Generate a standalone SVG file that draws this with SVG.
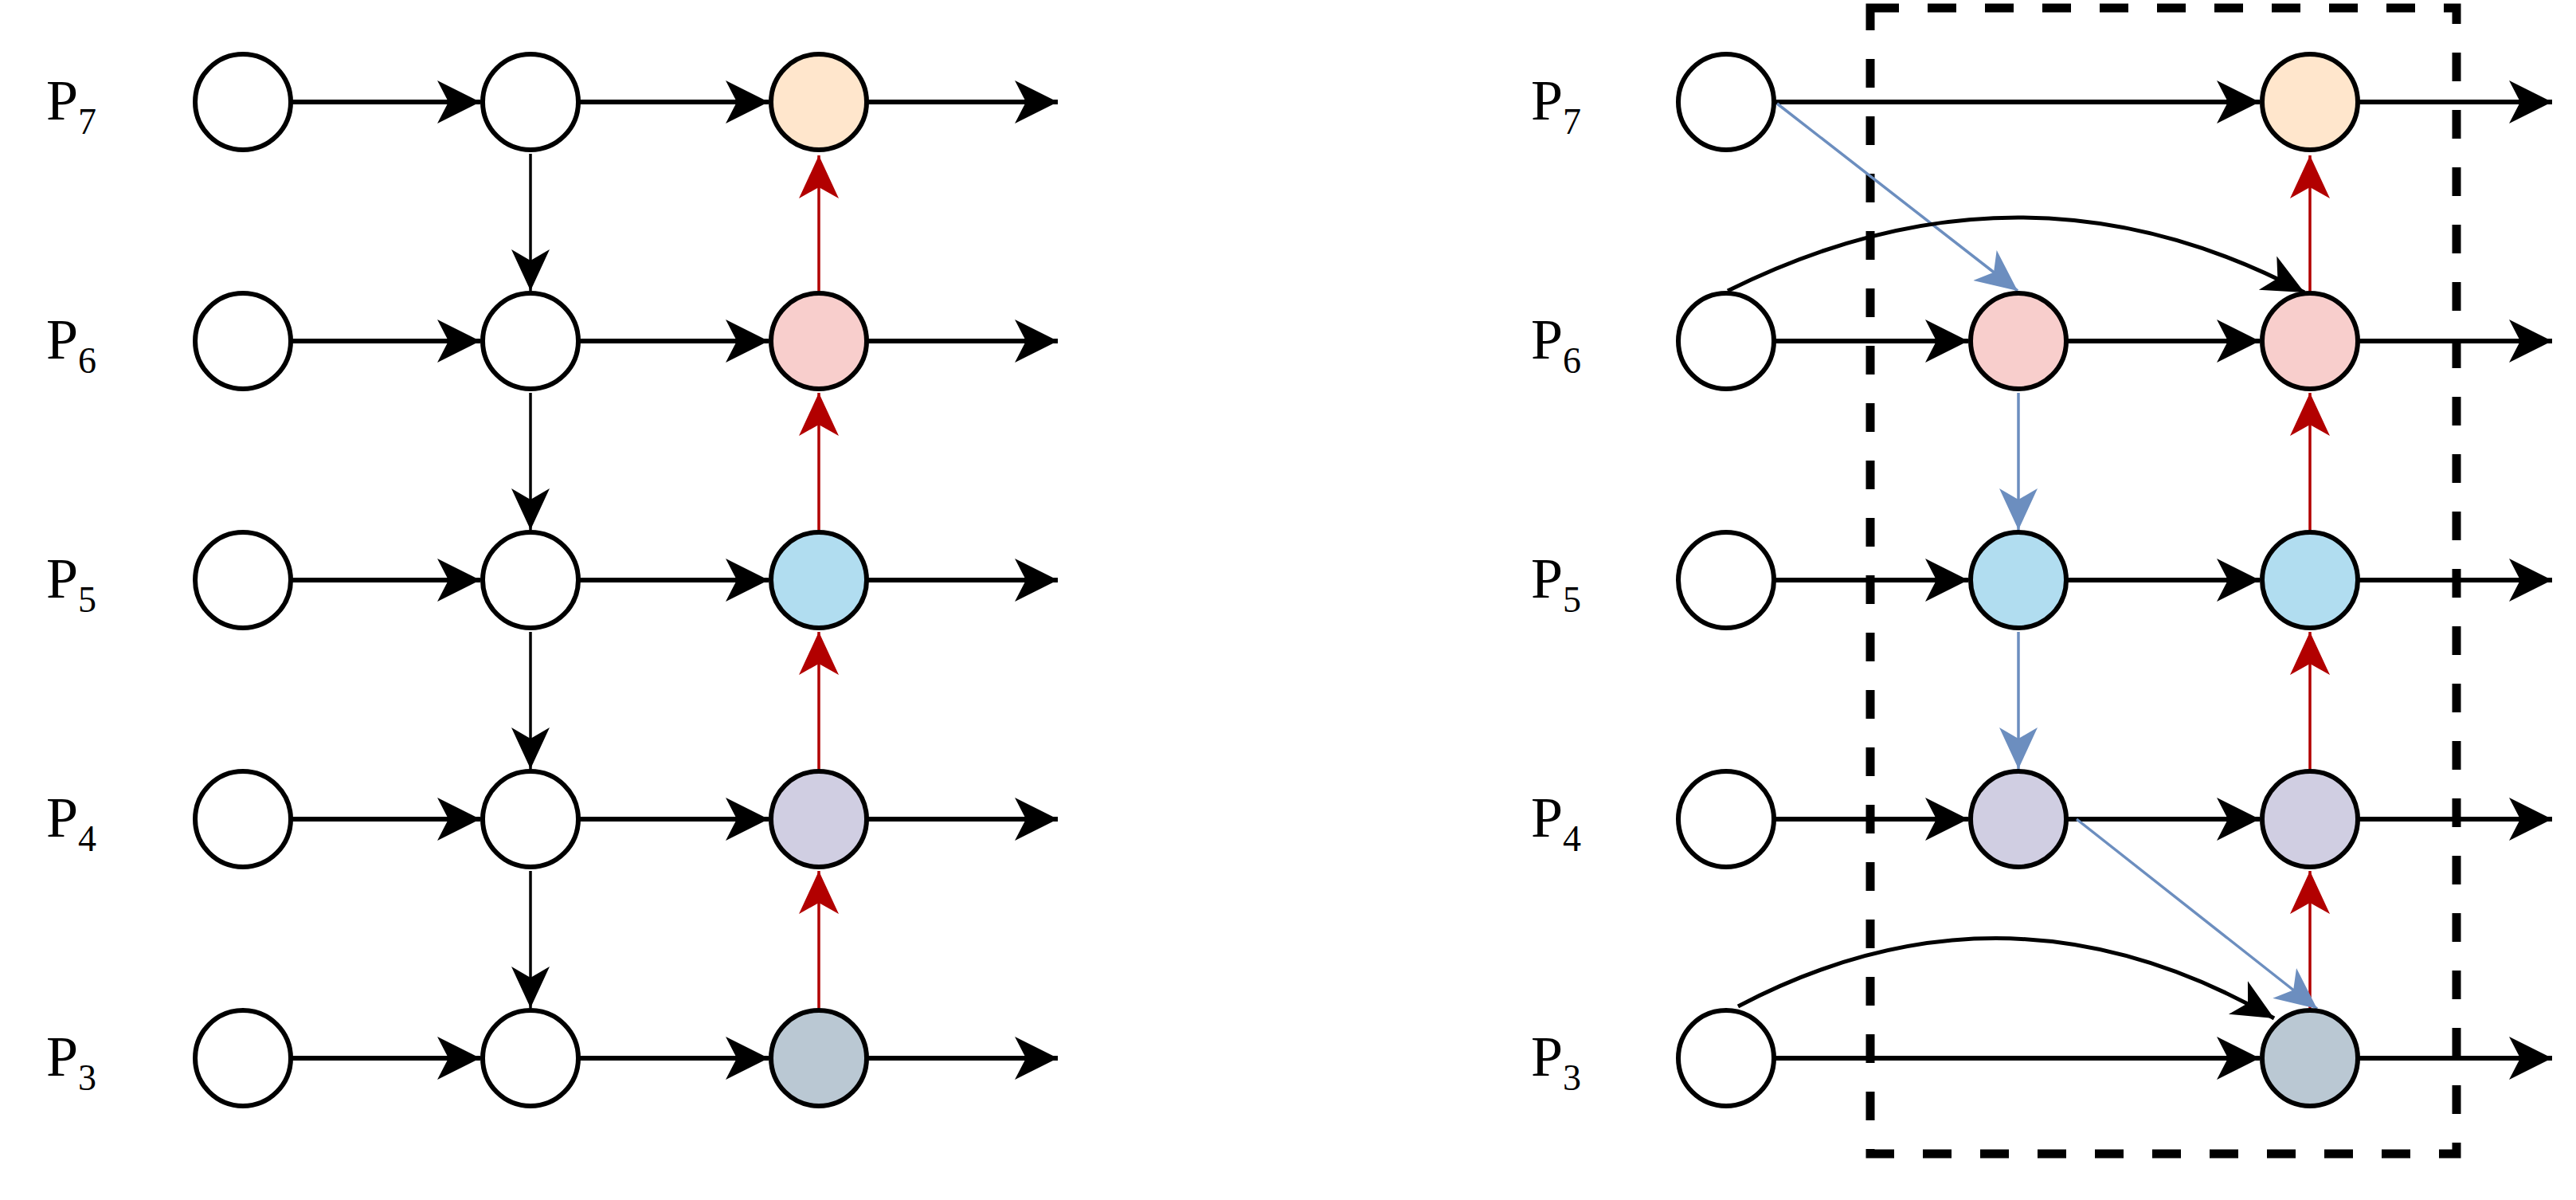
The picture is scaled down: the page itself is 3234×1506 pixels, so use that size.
<svg xmlns="http://www.w3.org/2000/svg" width="3234" height="1506" viewBox="0 0 3234 1506">
<style>
.n{stroke:#000;stroke-width:6}
.t{font-family:"Liberation Serif",serif;font-size:72px;fill:#000}
.h{stroke:#000;stroke-width:6;fill:none;marker-end:url(#ab)}
.v{stroke:#000;stroke-width:3.5;fill:none;marker-end:url(#ab2)}
.r{stroke:#B20000;stroke-width:3.5;fill:none;marker-end:url(#ar)}
.b{stroke:#6C8EBF;stroke-width:3.5;fill:none;marker-end:url(#abl)}
.c{stroke:#000;stroke-width:5;fill:none;marker-end:url(#ab2)}
</style>
<defs>
<marker id="ab" markerUnits="userSpaceOnUse" viewBox="0 -28 56 56" refX="54" refY="0" markerWidth="56" markerHeight="56" orient="auto"><path d="M0,-27 L54,0 L0,27 L14,0 Z" fill="#000"/></marker>
<marker id="ab2" markerUnits="userSpaceOnUse" viewBox="0 -28 56 56" refX="52" refY="0" markerWidth="56" markerHeight="56" orient="auto"><path d="M0,-24 L52,0 L0,24 L14,0 Z" fill="#000"/></marker>
<marker id="ar" markerUnits="userSpaceOnUse" viewBox="0 -28 56 56" refX="54" refY="0" markerWidth="56" markerHeight="56" orient="auto"><path d="M0,-25 L54,0 L0,25 L14,0 Z" fill="#B20000"/></marker>
<marker id="abl" markerUnits="userSpaceOnUse" viewBox="0 -28 56 56" refX="52" refY="0" markerWidth="56" markerHeight="56" orient="auto"><path d="M0,-24 L52,0 L0,24 L14,0 Z" fill="#6C8EBF"/></marker>
</defs>
<rect width="3234" height="1506" fill="#fff"/>
<g id="labels">
<text class="t" x="58" y="150">P<tspan font-size="46" dy="18">7</tspan></text>
<text class="t" x="58" y="450">P<tspan font-size="46" dy="18">6</tspan></text>
<text class="t" x="58" y="750">P<tspan font-size="46" dy="18">5</tspan></text>
<text class="t" x="58" y="1050">P<tspan font-size="46" dy="18">4</tspan></text>
<text class="t" x="58" y="1350">P<tspan font-size="46" dy="18">3</tspan></text>
<text class="t" x="1922" y="150">P<tspan font-size="46" dy="18">7</tspan></text>
<text class="t" x="1922" y="450">P<tspan font-size="46" dy="18">6</tspan></text>
<text class="t" x="1922" y="750">P<tspan font-size="46" dy="18">5</tspan></text>
<text class="t" x="1922" y="1050">P<tspan font-size="46" dy="18">4</tspan></text>
<text class="t" x="1922" y="1350">P<tspan font-size="46" dy="18">3</tspan></text>
</g>
<g id="box"><rect x="2348" y="10" width="736" height="1438" fill="none" stroke="#000" stroke-width="11" stroke-dasharray="36 36"/></g>
<g id="connectors">
<!-- left panel horizontals -->
<path class="h" d="M365,128 H603"/><path class="h" d="M726,128 H965"/><path class="h" d="M1088,128 H1328"/>
<path class="h" d="M365,428 H603"/><path class="h" d="M726,428 H965"/><path class="h" d="M1088,428 H1328"/>
<path class="h" d="M365,728 H603"/><path class="h" d="M726,728 H965"/><path class="h" d="M1088,728 H1328"/>
<path class="h" d="M365,1028 H603"/><path class="h" d="M726,1028 H965"/><path class="h" d="M1088,1028 H1328"/>
<path class="h" d="M365,1328 H603"/><path class="h" d="M726,1328 H965"/><path class="h" d="M1088,1328 H1328"/>
<path class="v" d="M666,193 V365"/><path class="v" d="M666,493 V665"/><path class="v" d="M666,793 V965"/><path class="v" d="M666,1093 V1265"/>
<path class="r" d="M1028,1265 V1093"/><path class="r" d="M1028,965 V793"/><path class="r" d="M1028,665 V493"/><path class="r" d="M1028,365 V195"/>
<!-- right panel -->
<path class="h" d="M2229,128 H2837"/><path class="h" d="M2962,128 H3204"/>
<path class="h" d="M2229,428 H2471"/><path class="h" d="M2596,428 H2837"/><path class="h" d="M2962,428 H3204"/>
<path class="h" d="M2229,728 H2471"/><path class="h" d="M2596,728 H2837"/><path class="h" d="M2962,728 H3204"/>
<path class="h" d="M2229,1028 H2471"/><path class="h" d="M2596,1028 H2837"/><path class="h" d="M2962,1028 H3204"/>
<path class="h" d="M2229,1328 H2837"/><path class="h" d="M2962,1328 H3204"/>
<path class="r" d="M2900,1265 V1093"/><path class="r" d="M2900,965 V793"/><path class="r" d="M2900,665 V493"/><path class="r" d="M2900,365 V195"/>
<path class="b" d="M2231,130 L2533,365"/>
<path class="b" d="M2534,493 V665"/><path class="b" d="M2534,793 V965"/>
<path class="b" d="M2607,1028 L2909,1266"/>
<path class="c" d="M2169,365 Q2540,180 2893,367"/>
<path class="c" d="M2182,1263 Q2520,1085 2855,1278"/>
</g>
<g id="nodes">
<g id="l7a"><circle class="n" cx="305" cy="128" r="60" fill="#fff"/></g>
<g id="l7b"><circle class="n" cx="666" cy="128" r="60" fill="#fff"/></g>
<g id="l7c"><circle class="n" cx="1028" cy="128" r="60" fill="#FFE6CC"/></g>
<g id="l6a"><circle class="n" cx="305" cy="428" r="60" fill="#fff"/></g>
<g id="l6b"><circle class="n" cx="666" cy="428" r="60" fill="#fff"/></g>
<g id="l6c"><circle class="n" cx="1028" cy="428" r="60" fill="#F8CECC"/></g>
<g id="l5a"><circle class="n" cx="305" cy="728" r="60" fill="#fff"/></g>
<g id="l5b"><circle class="n" cx="666" cy="728" r="60" fill="#fff"/></g>
<g id="l5c"><circle class="n" cx="1028" cy="728" r="60" fill="#B1DDF0"/></g>
<g id="l4a"><circle class="n" cx="305" cy="1028" r="60" fill="#fff"/></g>
<g id="l4b"><circle class="n" cx="666" cy="1028" r="60" fill="#fff"/></g>
<g id="l4c"><circle class="n" cx="1028" cy="1028" r="60" fill="#D0CEE2"/></g>
<g id="l3a"><circle class="n" cx="305" cy="1328" r="60" fill="#fff"/></g>
<g id="l3b"><circle class="n" cx="666" cy="1328" r="60" fill="#fff"/></g>
<g id="l3c"><circle class="n" cx="1028" cy="1328" r="60" fill="#BAC8D3"/></g>
<g id="r7a"><circle class="n" cx="2167" cy="128" r="60" fill="#fff"/></g>
<g id="r7c"><circle class="n" cx="2900" cy="128" r="60" fill="#FFE6CC"/></g>
<g id="r6a"><circle class="n" cx="2167" cy="428" r="60" fill="#fff"/></g>
<g id="r6b"><circle class="n" cx="2534" cy="428" r="60" fill="#F8CECC"/></g>
<g id="r6c"><circle class="n" cx="2900" cy="428" r="60" fill="#F8CECC"/></g>
<g id="r5a"><circle class="n" cx="2167" cy="728" r="60" fill="#fff"/></g>
<g id="r5b"><circle class="n" cx="2534" cy="728" r="60" fill="#B1DDF0"/></g>
<g id="r5c"><circle class="n" cx="2900" cy="728" r="60" fill="#B1DDF0"/></g>
<g id="r4a"><circle class="n" cx="2167" cy="1028" r="60" fill="#fff"/></g>
<g id="r4b"><circle class="n" cx="2534" cy="1028" r="60" fill="#D0CEE2"/></g>
<g id="r4c"><circle class="n" cx="2900" cy="1028" r="60" fill="#D0CEE2"/></g>
<g id="r3a"><circle class="n" cx="2167" cy="1328" r="60" fill="#fff"/></g>
<g id="r3c"><circle class="n" cx="2900" cy="1328" r="60" fill="#BAC8D3"/></g>
</g>
</svg>
